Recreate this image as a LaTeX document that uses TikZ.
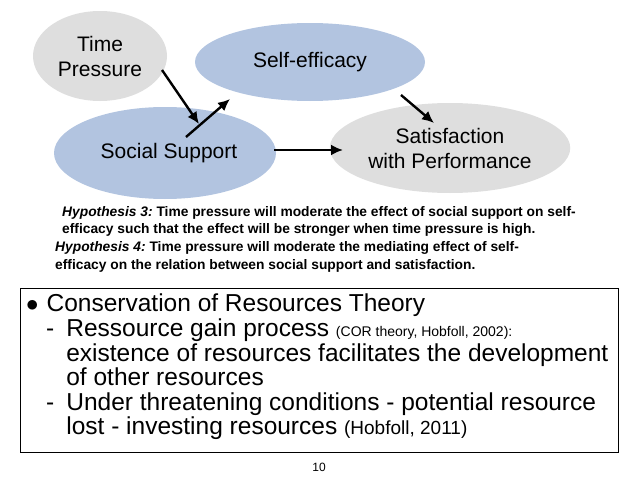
\documentclass[tikz,border=0pt]{standalone}
\usepackage{fontspec}
\setmainfont{Liberation Sans}
\usetikzlibrary{shapes.geometric,arrows.meta}
\definecolor{grayfill}{RGB}{222,222,222}
\definecolor{bluefill}{RGB}{178,196,224}
\begin{document}
\begin{tikzpicture}[x=1pt,y=-1pt,
  ell/.style={ellipse,draw=none,minimum width=#1,align=center,font=\fontsize{21}{25}\selectfont},
  arr/.style={-{Latex[length=12pt,width=11pt]},line width=2.4pt},
  hyp/.style={anchor=west,font=\fontsize{13.8}{15}\selectfont\bfseries,inner sep=0}]
\useasboundingbox (0,0) rectangle (638,479);
\node[ell=134pt,minimum height=90pt,fill=grayfill] (tp) at (100,56) {Time\\Pressure};
\node[ell=230pt,minimum height=78pt,fill=bluefill] (se) at (310,62) {Self-efficacy};
\node[ell=222pt,minimum height=92pt,fill=bluefill] (ss) at (165,153) {\hspace*{8pt}Social Support};
\node[ell=222pt,minimum height=90pt,fill=grayfill] (sat) at (450,148) {Satisfaction\\with Performance};
\coordinate (a1) at (186,137);
\coordinate (a2) at (230,99);
\coordinate (mid) at (199,124);
\coordinate (t1) at (162,70);
\draw[arr] (a1) -- (a2);
\draw[arr] (t1) -- (mid);
\coordinate (s1) at (401,95);
\coordinate (s2) at (434,123);
\draw[arr] (s1) -- (s2);
\coordinate (h1) at (274,150);
\coordinate (h2) at (343,150);
\draw[arr] (h1) -- (h2);
\node[hyp] (hy3a) at (62,213) {\itshape Hypothesis 3:\upshape\ Time pressure will moderate the effect of social support on self-};
\node[hyp] (hy3b) at (62,230) {efficacy such that the effect will be stronger when time pressure is high.};
\node[hyp] (hy4a) at (55,248) {\itshape Hypothesis 4:\upshape\ Time pressure will moderate the mediating effect of self-};
\node[hyp] (hy4b) at (55,266) {efficacy on the relation between social support and satisfaction.};
\node[draw,line width=0.8pt,minimum width=598pt,minimum height=164pt,inner sep=0] (box) at (319,370) {};
\node[anchor=north west,align=left,inner sep=0,font=\fontsize{24.5}{24.6}\selectfont] (txt) at (26,294) {%
$\bullet$\hspace{8pt}Conservation of Resources Theory\\
\hspace*{20pt}-\hspace{12pt}Ressource gain process {\fontsize{14}{14}\selectfont (COR theory, Hobfoll, 2002):}\\
\hspace*{20pt}\phantom{-}\hspace{12pt}existence of resources facilitates the development\\
\hspace*{20pt}\phantom{-}\hspace{12pt}of other resources\\
\hspace*{20pt}-\hspace{12pt}Under threatening conditions - potential resource\\
\hspace*{20pt}\phantom{-}\hspace{12pt}lost - investing resources {\fontsize{19}{20}\selectfont(Hobfoll, 2011)}};
\node[font=\fontsize{12}{14}\selectfont] (pg) at (319,467) {10};
\end{tikzpicture}
\end{document}
